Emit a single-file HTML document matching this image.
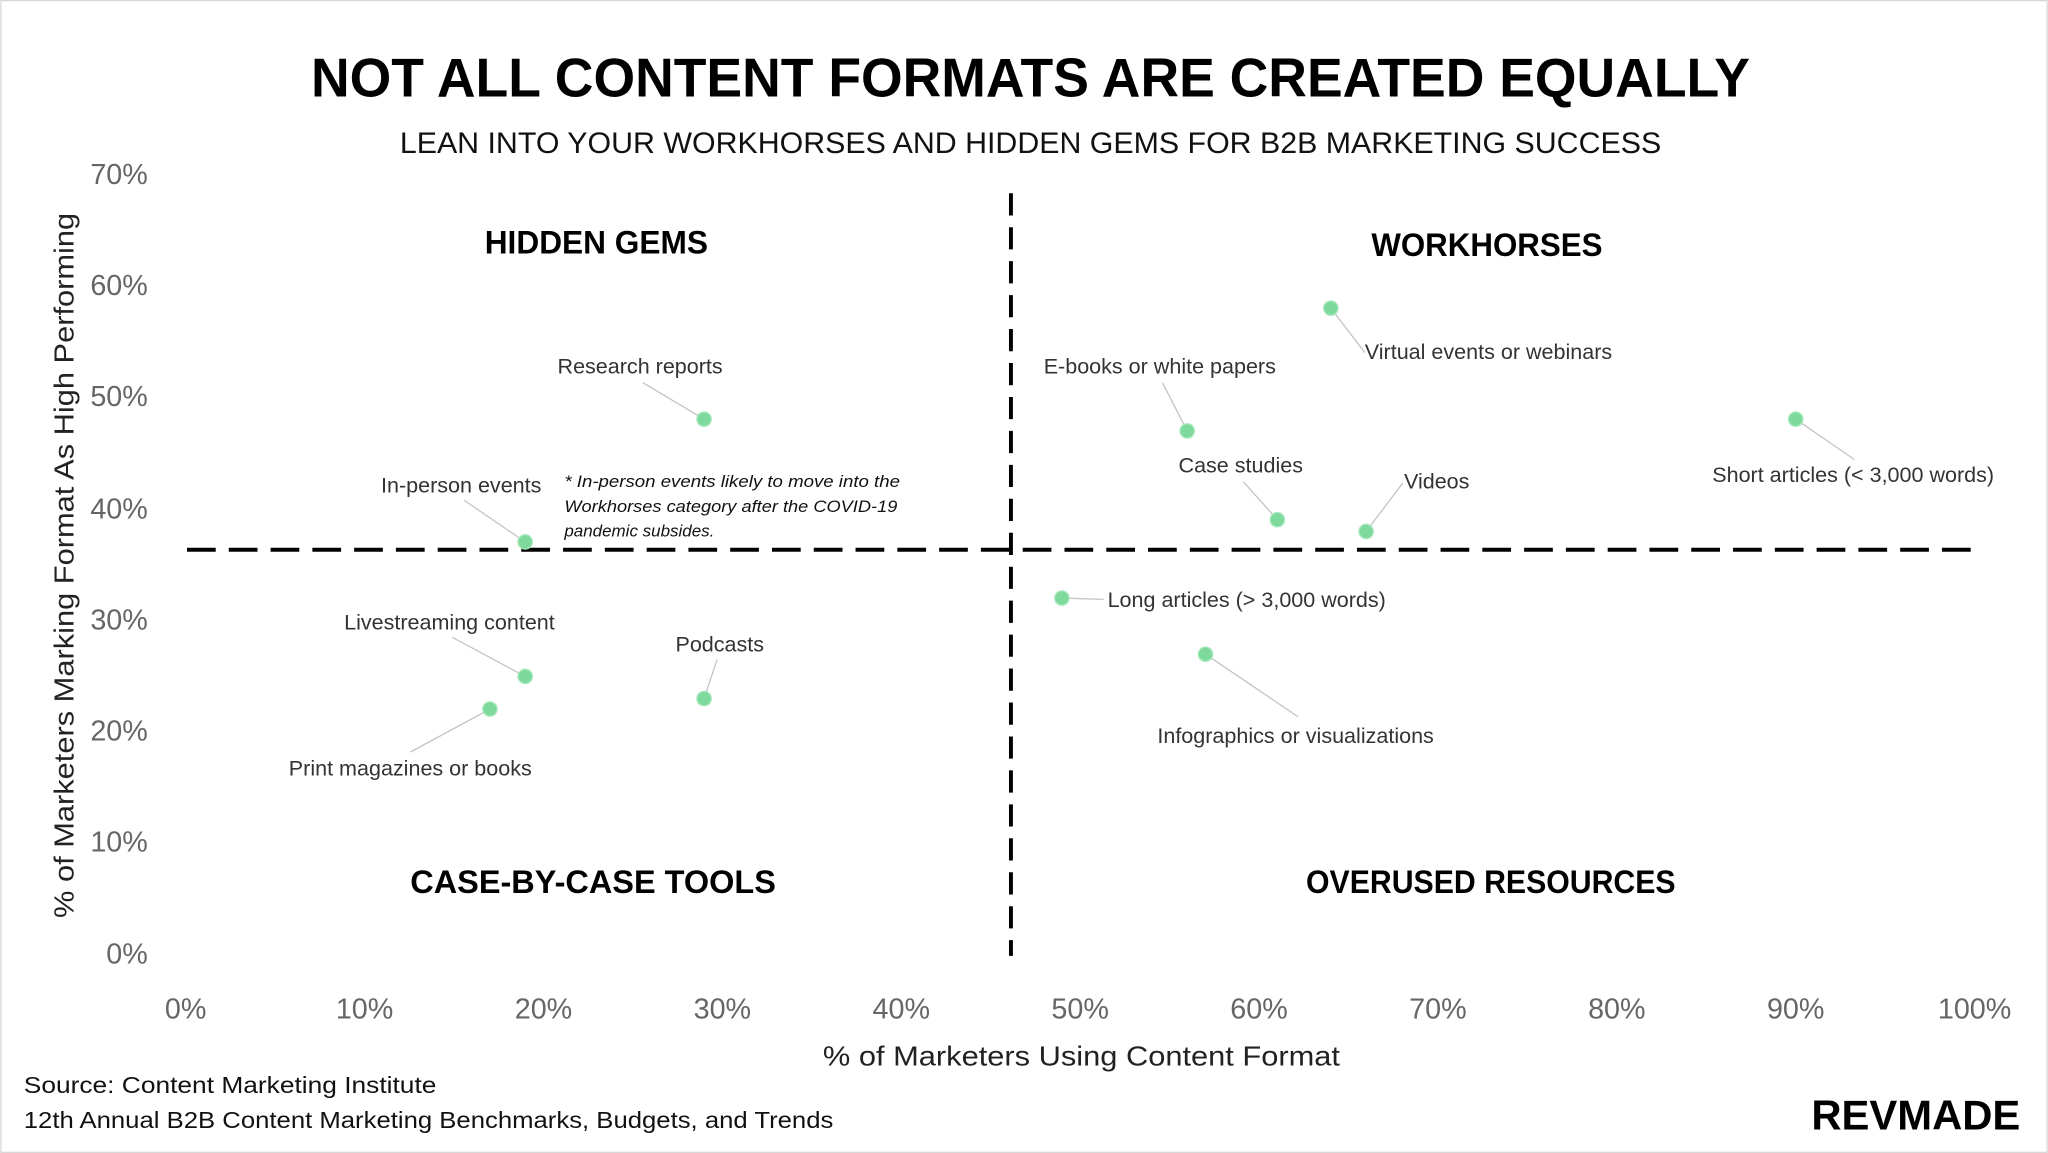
<!DOCTYPE html>
<html><head><meta charset="utf-8"><style>
html,body{margin:0;padding:0;background:#fff;}
svg{display:block;}
text{font-family:"Liberation Sans",sans-serif;}
</style></head><body>
<svg width="2048" height="1153" viewBox="0 0 1568 883" xmlns="http://www.w3.org/2000/svg">
<rect x="0.5" y="0.5" width="1567" height="882" fill="#fff" stroke="#d8d8d8"/>
<text x="238" y="74" font-size="42" font-weight="bold" fill="#000" textLength="1102" lengthAdjust="spacingAndGlyphs">NOT ALL CONTENT FORMATS ARE CREATED EQUALLY</text>
<text x="306" y="117" font-size="23" fill="#111" textLength="966" lengthAdjust="spacingAndGlyphs">LEAN INTO YOUR WORKHORSES AND HIDDEN GEMS FOR B2B MARKETING SUCCESS</text>
<g font-size="22" fill="#666" text-anchor="end">
<text x="113" y="141">70%</text><text x="113" y="226">60%</text><text x="113" y="311">50%</text><text x="113" y="397">40%</text><text x="113" y="482">30%</text><text x="113" y="567">20%</text><text x="113" y="652">10%</text><text x="113" y="738">0%</text>
</g>
<g font-size="22" fill="#666" text-anchor="middle">
<text x="142" y="780">0%</text><text x="279" y="780">10%</text><text x="416" y="780">20%</text><text x="553" y="780">30%</text><text x="690" y="780">40%</text><text x="827" y="780">50%</text><text x="964" y="780">60%</text><text x="1101" y="780">70%</text><text x="1238" y="780">80%</text><text x="1375" y="780">90%</text><text x="1512" y="780">100%</text>
</g>
<text x="630" y="816" font-size="21" fill="#222" textLength="396" lengthAdjust="spacingAndGlyphs">% of Marketers Using Content Format</text>
<text transform="translate(56,703) rotate(-90)" font-size="21" fill="#222" textLength="540" lengthAdjust="spacingAndGlyphs">% of Marketers Marking Format As High Performing</text>
<line x1="774" y1="148" x2="774" y2="732" stroke="#000" stroke-width="3" stroke-dasharray="17,9"/>
<line x1="143" y1="421" x2="1512" y2="421" stroke="#000" stroke-width="3" stroke-dasharray="22,10"/>
<g font-size="25" font-weight="bold" fill="#000">
<text x="371" y="194" textLength="171" lengthAdjust="spacingAndGlyphs">HIDDEN GEMS</text>
<text x="1050" y="196" textLength="177" lengthAdjust="spacingAndGlyphs">WORKHORSES</text>
<text x="314" y="684" textLength="280" lengthAdjust="spacingAndGlyphs">CASE-BY-CASE TOOLS</text>
<text x="1000" y="684" textLength="283" lengthAdjust="spacingAndGlyphs">OVERUSED RESOURCES</text>
</g>
<g stroke="#c4c4c4" stroke-width="1">
<line x1="492" y1="293" x2="539" y2="321"/>
<line x1="355" y1="383" x2="402" y2="415"/>
<line x1="346" y1="488" x2="402" y2="518"/>
<line x1="314" y1="576" x2="375" y2="543"/>
<line x1="549" y1="505" x2="539" y2="535"/>
<line x1="890" y1="293" x2="909" y2="330"/>
<line x1="1045" y1="270" x2="1019" y2="236"/>
<line x1="952" y1="369" x2="978" y2="398"/>
<line x1="1074" y1="370" x2="1046" y2="407"/>
<line x1="1420" y1="352" x2="1375" y2="321"/>
<line x1="845" y1="459" x2="813" y2="458"/>
<line x1="994" y1="549" x2="923" y2="501"/>
</g>
<g fill="#7dd99c" stroke="#a8e8bd" stroke-width="1">
<circle cx="539" cy="321" r="5.5"/><circle cx="402" cy="415" r="5.5"/><circle cx="402" cy="518" r="5.5"/><circle cx="375" cy="543" r="5.5"/><circle cx="539" cy="535" r="5.5"/><circle cx="909" cy="330" r="5.5"/><circle cx="1019" cy="236" r="5.5"/><circle cx="978" cy="398" r="5.5"/><circle cx="1046" cy="407" r="5.5"/><circle cx="1375" cy="321" r="5.5"/><circle cx="813" cy="458" r="5.5"/><circle cx="923" cy="501" r="5.5"/>
</g>
<g font-size="16.5" fill="#333">
<text x="490" y="286" text-anchor="middle">Research reports</text>
<text x="353" y="377" text-anchor="middle">In-person events</text>
<text x="344" y="482" text-anchor="middle">Livestreaming content</text>
<text x="314" y="594" text-anchor="middle">Print magazines or books</text>
<text x="551" y="499" text-anchor="middle">Podcasts</text>
<text x="888" y="286" text-anchor="middle">E-books or white papers</text>
<text x="1045" y="275">Virtual events or webinars</text>
<text x="950" y="362" text-anchor="middle">Case studies</text>
<text x="1075" y="374">Videos</text>
<text x="1419" y="369" text-anchor="middle">Short articles (&lt; 3,000 words)</text>
<text x="848" y="465">Long articles (&gt; 3,000 words)</text>
<text x="992" y="569" text-anchor="middle">Infographics or visualizations</text>
</g>
<g font-size="13" font-style="italic" fill="#111">
<text x="432" y="373" textLength="257" lengthAdjust="spacingAndGlyphs">* In-person events likely to move into the</text>
<text x="432" y="392" textLength="255" lengthAdjust="spacingAndGlyphs">Workhorses category after the COVID-19</text>
<text x="432" y="411">pandemic subsides.</text>
</g>
<text x="18" y="837" font-size="18" fill="#111" textLength="316" lengthAdjust="spacingAndGlyphs">Source: Content Marketing Institute</text>
<text x="18" y="864" font-size="18" fill="#111" textLength="620" lengthAdjust="spacingAndGlyphs">12th Annual B2B Content Marketing Benchmarks, Budgets, and Trends</text>
<text x="1387" y="865" font-size="32" font-weight="bold" fill="#000" textLength="160" lengthAdjust="spacingAndGlyphs">REVMADE</text>
</svg>
</body></html>
